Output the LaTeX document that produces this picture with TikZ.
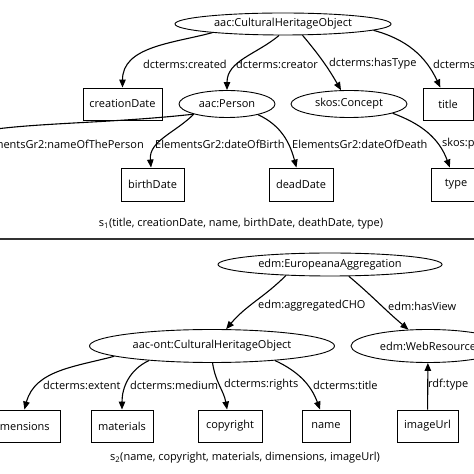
\documentclass[tikz,border=0pt]{standalone}
\usepackage{fontspec}
\setsansfont{Open Sans}
\usetikzlibrary{positioning, arrows.meta, shapes.geometric}

\begin{document}
\begin{tikzpicture}[
  x=1pt, y=1pt,
  font=\sffamily\fontsize{11}{13}\selectfont,
  classnode/.style={draw, ellipse, inner sep=0pt, line width=0.9pt,
    minimum width=100, minimum height=27},
  litbox/.style={draw, rectangle, inner sep=0pt, line width=0.9pt,
    minimum width=60, minimum height=32},
  prop/.style={-{Triangle[length=8pt, width=6.5pt]}, line width=1.1pt},
  proplabel/.style={inner sep=0pt, anchor=west},
  caplabel/.style={inner sep=0pt},
  sepline/.style={line width=1.4pt, draw=black!80},
]
\useasboundingbox (0,0) rectangle (474,474);
\clip (0,0) rectangle (474,474);

% ---- TOP: s1 ----
\node[classnode, minimum width=216, minimum height=22] (cho) at (283,450) {aac:CulturalHeritageObject};
\node[litbox, minimum width=79] (cdate) at (122.5,370) {creationDate};
\node[classnode, minimum width=96] (person) at (227,370) {aac:Person};
\node[classnode, minimum width=116] (concept) at (349,370) {skos:Concept};
\node[litbox, minimum width=50] (title) at (448,370) {title};
\node[litbox, minimum width=63, minimum height=33] (bdate) at (152.5,289.5) {birthDate};
\node[litbox, minimum width=64, minimum height=33] (ddate) at (301,289.5) {deadDate};
\node[litbox, minimum width=50, minimum height=33] (type) at (456,289.5) {type};
\coordinate (pname) at (-75,306);

\draw[prop] (cho.187) to[out=195, in=90] (cdate);
\draw[prop] (cho.251) to[out=220, in=90] (person);
\draw[prop] (cho.330) to[out=-50, in=120] (concept);
\draw[prop] (cho.-4) to[out=-15, in=115] (title);
\draw[prop] (person.197) .. controls (60,345) and (-60,356) .. (pname);
\draw[prop] (person.197) to[out=225, in=95] (bdate);
\draw[prop] (person.-19) to[out=-25, in=105] (ddate);
\draw[prop] (concept.-12) to[out=-20, in=110] (type);

\node[proplabel] (lcreated) at (143,410) {dcterms:created};
\node[proplabel] (lcreator) at (236,410) {dcterms:creator};
\node[proplabel] (lhastype) at (329,410) {dcterms:hasType};
\node[proplabel] (ltitle) at (433,410) {dcterms:title};
\node[proplabel, anchor=east] (lpname) at (144,330) {ElementsGr2:nameOfThePerson};
\node[proplabel] (lbirth) at (155,330) {ElementsGr2:dateOfBirth};
\node[proplabel] (ldeath) at (292,330) {ElementsGr2:dateOfDeath};
\node[proplabel] (lpref) at (442,330) {skos:prefLabel};

\node[caplabel] (cap1) at (241,250) {s\textsubscript{1}(title, creationDate, name, birthDate, deathDate, type)};

\draw[sepline] (0,235) -- (474,235);

% ---- BOTTOM: s2 ----
\node[classnode, minimum width=224, minimum height=23] (agg) at (330,209.5) {edm:EuropeanaAggregation};
\node[classnode, minimum width=245, minimum height=33] (acho) at (212,128) {aac-ont:CulturalHeritageObject};
\node[classnode, minimum width=154, minimum height=33] (web) at (428,128) {edm:WebResource};
\node[litbox, minimum width=80] (dims) at (20,48) {dimensions};
\node[litbox, minimum width=62] (mats) at (122,48) {materials};
\node[litbox, minimum width=64] (copy) at (230,48) {copyright};
\node[litbox, minimum width=48] (name) at (326,48) {name};
\node[litbox, minimum width=61] (img) at (427.5,48) {imageUrl};

\draw[prop] (agg.194) to[out=225, in=50] (acho);
\draw[prop] (agg.-32) to[out=-40, in=140] (web);
\draw[prop] (acho.186) to[out=195, in=75] (dims);
\draw[prop] (acho.193) to[out=205, in=90] (mats);
\draw[prop] (acho.272) to[out=-82, in=100] (copy);
\draw[prop] (acho.-13) to[out=-25, in=110] (name);
\draw[prop] (img) -- (web);

\node[proplabel] (laggr) at (258,168) {edm:aggregatedCHO};
\node[proplabel] (lview) at (388,168) {edm:hasView};
\node[proplabel] (lextent) at (43,89) {dcterms:extent};
\node[proplabel] (lmedium) at (130,89) {dcterms:medium};
\node[proplabel] (lrights) at (224,89) {dcterms:rights};
\node[proplabel] (ltitle2) at (313,89) {dcterms:title};
\node[proplabel] (ltype) at (428,89) {rdf:type};

\node[caplabel] (cap2) at (245,16) {s\textsubscript{2}(name, copyright, materials, dimensions, imageUrl)};

\end{tikzpicture}
\end{document}
